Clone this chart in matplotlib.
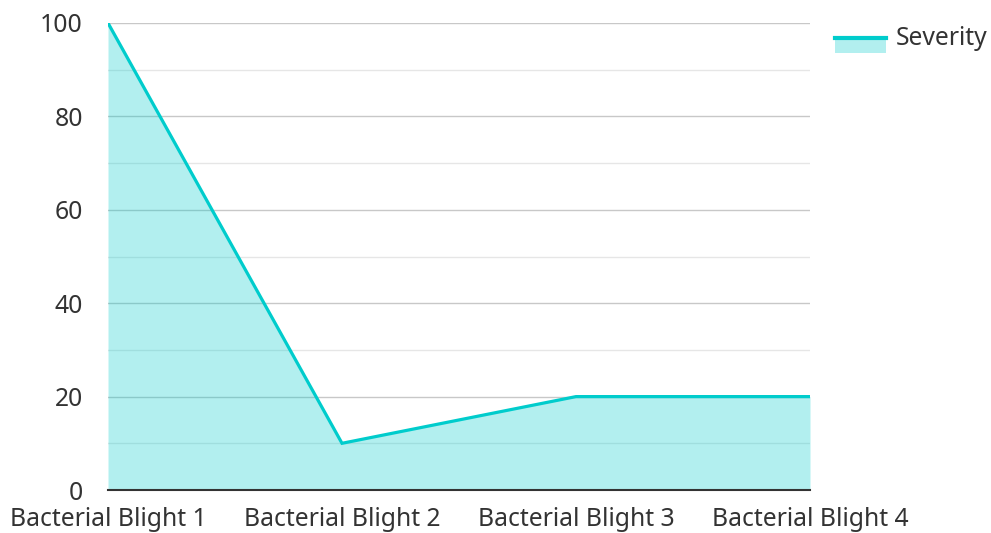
import matplotlib
matplotlib.use('Agg')
import matplotlib.pyplot as plt
from matplotlib.lines import Line2D
from matplotlib.patches import Patch, Rectangle
from matplotlib.legend_handler import HandlerBase

plt.rcParams['font.family'] = ['Noto Sans', 'DejaVu Sans']

categories = ['Bacterial Blight 1', 'Bacterial Blight 2', 'Bacterial Blight 3', 'Bacterial Blight 4']
severity = [100, 10, 20, 20]
major_ticks = [0, 20, 40, 60, 80, 100]
minor_ticks = [10, 30, 50, 70, 90]

line_color = '#00cccc'
text_color = '#333333'
fs = 17.8


class AreaHandler(HandlerBase):
    # filled box with the line along its top edge, dropped a little below text centre
    def create_artists(self, legend, orig_handle, xdescent, ydescent, width, height, fontsize, trans):
        x0 = -xdescent
        y0 = -ydescent - 0.6 * height
        rect = Rectangle((x0, y0), width, height, facecolor=line_color, alpha=0.3,
                         edgecolor='none', transform=trans)
        ln = Line2D([x0, x0 + width], [y0 + height, y0 + height], color=line_color,
                    linewidth=3, transform=trans)
        return [rect, ln]


fig = plt.figure(figsize=(9.91, 5.33), dpi=100)
ax = fig.add_axes([108 / 991, 1 - 490 / 533, (810 - 108) / 991, (490 - 23) / 533])

# gridlines first, the translucent fill tints them
for v in major_ticks[1:]:
    ax.axhline(v, color='#c8c8c8', linewidth=1, zorder=1)
for v in minor_ticks:
    ax.axhline(v, color='#e6e6e6', linewidth=1, zorder=1)

x = range(len(categories))
ax.fill_between(x, severity, 0, color=line_color, alpha=0.3, linewidth=0, zorder=2)
ax.plot(x, severity, color=line_color, linewidth=2.3, zorder=4, solid_joinstyle='miter')

ax.set_xlim(0, len(categories) - 1)
ax.set_ylim(0, 100)
ax.set_xticks(list(x))
ax.set_xticklabels(categories, fontsize=fs, color=text_color)
ax.set_yticks(major_ticks)
ax.tick_params(axis='y', labelsize=fs, labelcolor=text_color, length=0, pad=18)
ax.tick_params(axis='x', length=0, pad=12)

for s in ['top', 'right', 'left']:
    ax.spines[s].set_visible(False)
ax.spines['bottom'].set_color(text_color)
ax.spines['bottom'].set_linewidth(1.5)
ax.spines['bottom'].set_zorder(5)

leg = fig.legend([Patch()], ['Severity'], handler_map={Patch: AreaHandler()},
                 loc='upper left', bbox_to_anchor=(835 / 991, 1 - 26 / 533),
                 frameon=False, fontsize=fs, handlelength=2.05, handleheight=0.58,
                 handletextpad=0.42, borderpad=0, borderaxespad=0)
for t in leg.get_texts():
    t.set_color(text_color)

fig.savefig('out.png', dpi=100)
